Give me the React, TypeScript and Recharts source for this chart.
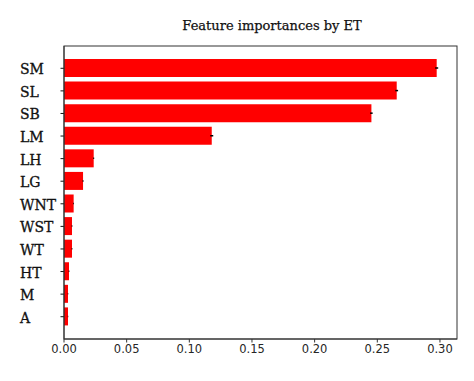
import { BarChart, Bar, XAxis, YAxis, ErrorBar } from "recharts"

const features = ["SM", "SL", "SB", "LM", "LH", "LG", "WNT", "WST", "WT", "HT", "M", "A"]
const importances = [0.2974, 0.2655, 0.2453, 0.1179, 0.0237, 0.0152, 0.0077, 0.0064, 0.0064, 0.004, 0.0032, 0.0032]
const errores = [0.0012, 0.0011, 0.001, 0.0012, 0.0004, 0.0004, 0.0003, 0.0003, 0.0003, 0.0003, 0.0002, 0.0002]
const xTicks = [0, 0.05, 0.1, 0.15, 0.2, 0.25, 0.3]

const datos = features.map((f, i) => ({
  name: f,
  value: importances[i],
  err: errores[i],
}))

// etiquetas del eje Y alineadas a la izquierda, como en la figura original
const TickY = (props: any) => {
  const { y, payload } = props
  return (
    <text
      x={20}
      y={y + 2}
      textAnchor="start"
      dominantBaseline="middle"
      fontFamily="DejaVu Serif"
      fontSize={14}
      fill="#111"
      stroke="#111"
      strokeWidth={0.3}
    >
      {payload.value}
    </text>
  )
}

export default function App() {
  return (
    <div style={{ position: "absolute", left: 0, top: 0, width: 474, height: 381, background: "#fff" }}>
      <div style={{ position: "absolute", left: 0, top: 0 }}>
        <BarChart
          width={474}
          height={381}
          data={datos}
          layout="vertical"
          margin={{ top: 46, right: 17, bottom: 12, left: 0 }}
        >
          <XAxis
            type="number"
            dataKey="value"
            domain={[0, 0.3136]}
            ticks={xTicks}
            allowDataOverflow
            tickFormatter={(v: number) => v.toFixed(2)}
            height={30}
            tickSize={3.5}
            axisLine={{ stroke: "#333" }}
            tickLine={{ stroke: "#333" }}
            tick={{ fontFamily: "DejaVu Sans", fontSize: 11.5, fill: "#262626" }}
          />
          <YAxis
            type="category"
            dataKey="name"
            width={64}
            padding={{ top: 11, bottom: 11 }}
            tickSize={3.5}
            axisLine={{ stroke: "#333" }}
            tickLine={{ stroke: "#111" }}
            tick={<TickY />}
            interval={0}
          />
          <Bar dataKey="value" fill="#ff0000" barSize={18} isAnimationActive={false}>
            <ErrorBar dataKey="err" direction="x" width={0} stroke="#000" strokeWidth={1.5} />
          </Bar>
        </BarChart>
      </div>
      <svg width={474} height={381} style={{ position: "absolute", left: 0, top: 0, pointerEvents: "none" }}>
        <text x={272} y={26} textAnchor="middle" dominantBaseline="middle" fontFamily="DejaVu Serif" fontSize={13} fill="#111" stroke="#111" strokeWidth={0.25}>
          Feature importances by ET
        </text>
        {/* marco del área de trazado */}
        <rect x={64} y={46} width={393} height={293} fill="none" stroke="#333" strokeWidth={1} />
      </svg>
    </div>
  )
}
